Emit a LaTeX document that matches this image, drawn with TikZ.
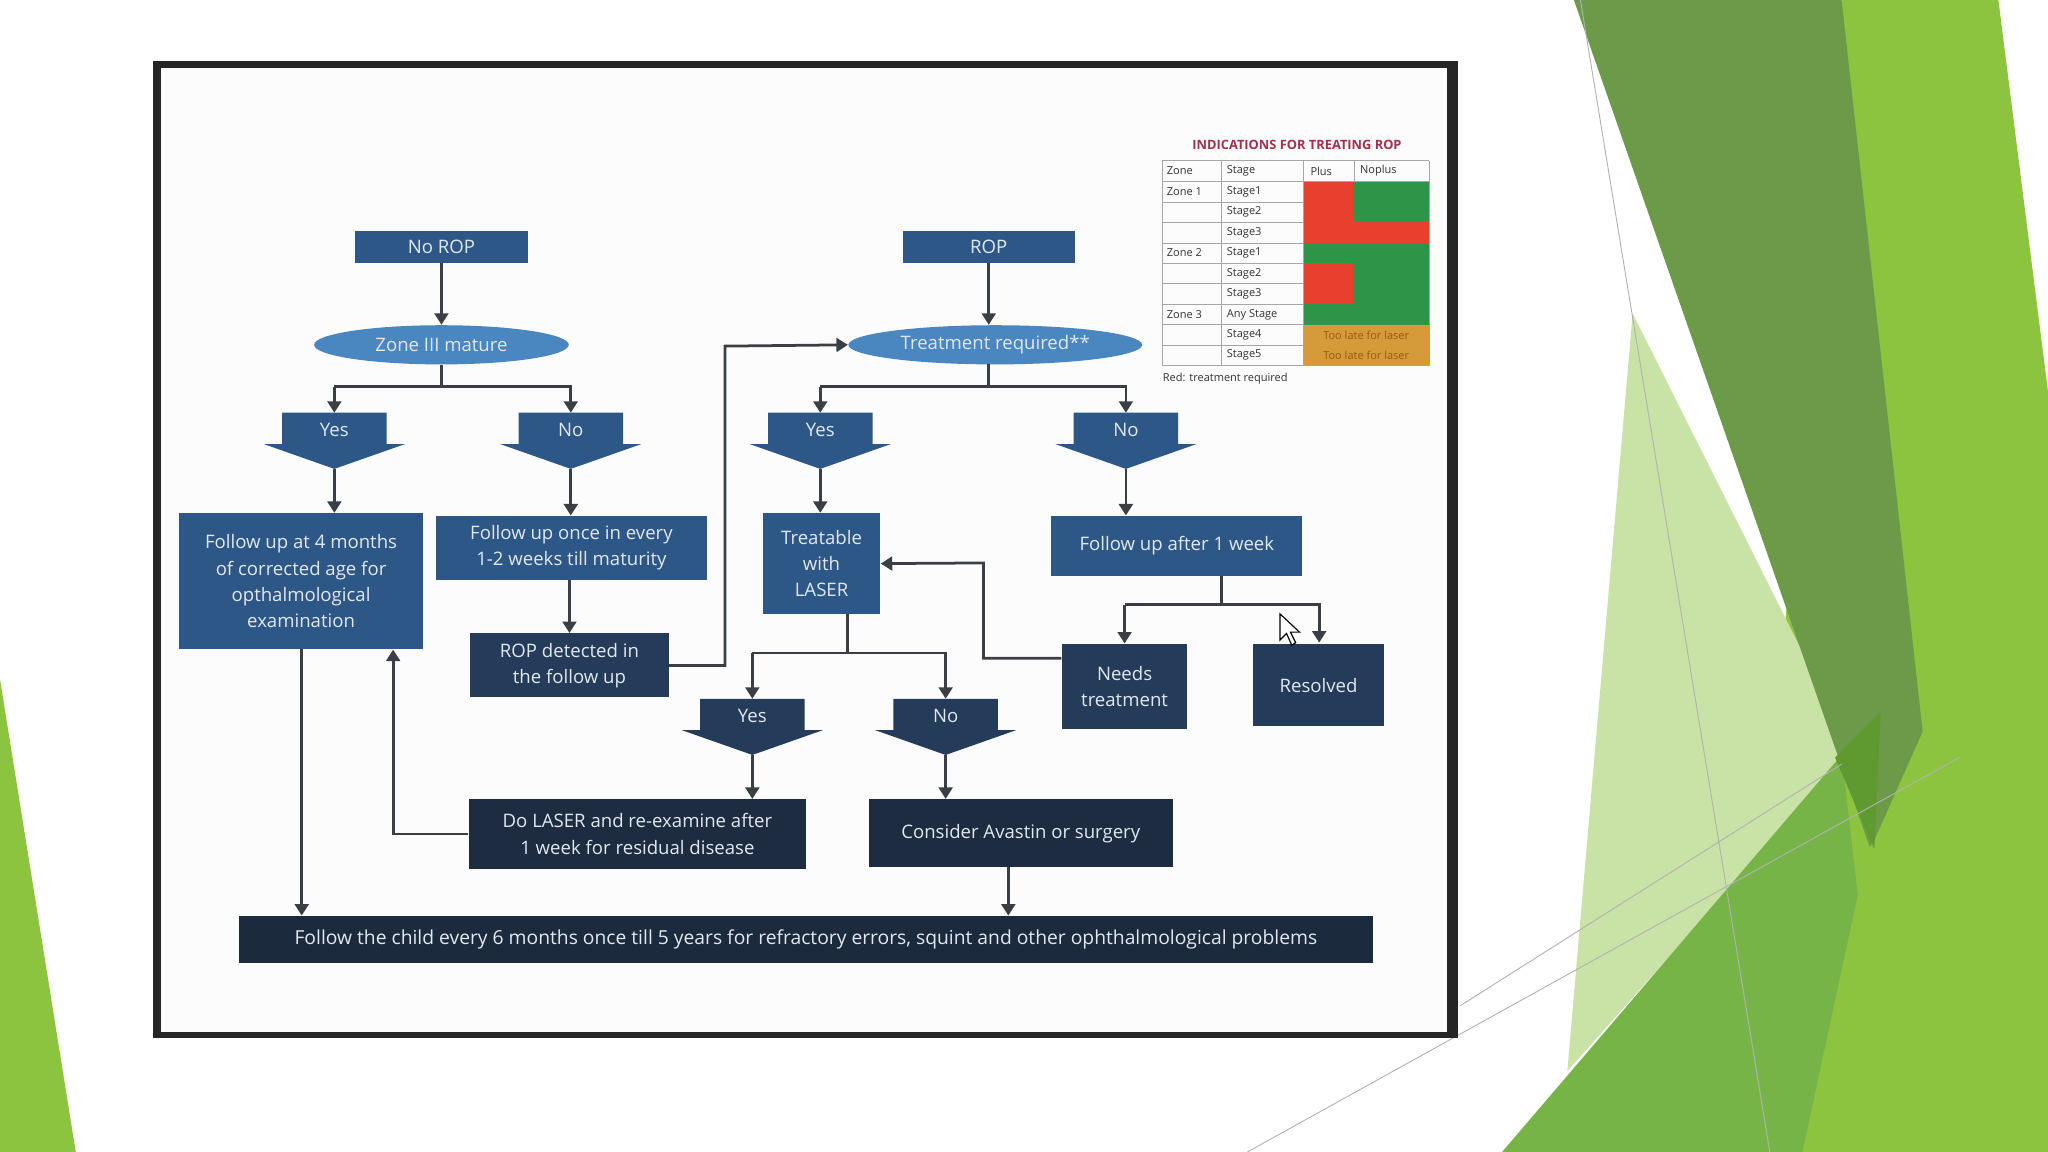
\documentclass[tikz,border=0pt]{standalone}
\usepackage{fontspec}
\setmainfont{Open Sans}
\usetikzlibrary{arrows.meta,shapes.geometric}
\definecolor{bx}{HTML}{2D5787}
\definecolor{el}{HTML}{4A86C0}
\definecolor{dk}{HTML}{243B59}
\definecolor{dd}{HTML}{1C2A3D}
\definecolor{tx}{HTML}{E2E8F0}
\definecolor{ln}{HTML}{3A3F45}
\definecolor{rd}{HTML}{E8402E}
\definecolor{gn}{HTML}{2E9447}
\definecolor{og}{HTML}{D59A3A}
\definecolor{ogt}{HTML}{9A5A10}
\definecolor{ttl}{HTML}{A3304A}
\definecolor{g1}{HTML}{6C9A48}
\definecolor{g2}{HTML}{8CC43F}
\definecolor{g3}{HTML}{C9E2A6}
\definecolor{g4}{HTML}{76B447}
\definecolor{g5}{HTML}{5E9A2F}
\tikzset{
 x=0.02cm,y=-0.02cm,
 box/.style={fill=bx,text=tx,align=center,inner sep=1pt,font=\fontsize{8.1}{11.4}\selectfont},
 dbox/.style={box,fill=dk},
 ell/.style={ellipse,fill=el,text=tx,inner sep=0pt,font=\fontsize{8.1}{11}\selectfont},
 con/.style={draw=ln,line width=1.2pt},
 arr/.style={con,-{Triangle[length=5pt,width=6pt]}},
 tb/.style={font=\fontsize{4.8}{6}\selectfont,anchor=west,inner sep=0pt,text=black!80},
}
\newcommand{\dshape}[5]{% name, x, top y, text, color
 \fill[#5] (#2-40,#3) -- (#2+40,#3) -- (#2+40,#3+24) -- (#2+54,#3+24) -- (#2,#3+43) -- (#2-54,#3+24) -- (#2-40,#3+24) -- cycle;
 \node[minimum width=1.6cm,minimum height=0.48cm,inner sep=0pt,text=tx,font=\fontsize{8.1}{11}\selectfont] (#1) at (#2,#3+13) {#4};
 \coordinate (#1-tip) at (#2,#3+43);}
\begin{document}
\begin{tikzpicture}
\useasboundingbox (0,0) rectangle (1568,882);
\fill[white] (0,0) rectangle (1568,882);
% decorations
\fill[g2] (0,520) -- (58,882) -- (0,882) -- cycle;
\fill[g2] (1410,0) -- (1530,0) -- (1568,300) -- (1568,882) -- (1330,882) -- cycle;
\fill[g3] (1250,240) -- (1418,575) -- (1200,820) -- cycle;
\fill[g1] (1205,0) -- (1410,0) -- (1472,560) -- (1432,650) -- cycle;
\fill[g4] (1150,882) -- (1410,578) -- (1445,882) -- cycle;
\fill[g2] (1430,650) -- (1568,500) -- (1568,882) -- (1380,882) -- cycle;
\fill[g5] (1405,580) -- (1440,545) -- (1435,650) -- cycle;
\draw[gray!60,line width=0.4pt] (1210,0) -- (1355,882) (955,882) -- (1500,580) (1118,770) -- (1410,585);
% screenshot frame
\fill[black!85] (117,47) rectangle (1116,795);
\fill[white!99!black] (123,52) rectangle (1108,790);
% top nodes
\node[box,minimum width=2.64cm,minimum height=0.48cm] (norop) at (338,189) {No ROP};
\node[box,minimum width=2.64cm,minimum height=0.48cm] (rop) at (757,189) {ROP};
\node[ell,minimum width=3.9cm,minimum height=0.6cm] (zone) at (338,264) {Zone III mature};
\node[ell,minimum width=4.5cm,minimum height=0.6cm] (treat) at (762,264) {Treatment required**};
\dshape{y1}{256}{316}{Yes}{bx}
\dshape{n1}{437}{316}{No}{bx}
\dshape{y2}{628}{316}{Yes}{bx}
\dshape{n2}{862}{316}{No}{bx}
\dshape{y3}{576}{535}{Yes}{dk}
\dshape{n3}{724}{535}{No}{dk}
\node[box,minimum width=3.74cm,minimum height=2.08cm] (f4) at (230.5,445) {Follow up at 4 months\\of corrected age for\\opthalmological\\examination};
\node[box,minimum width=4.14cm,minimum height=0.98cm] (fonce) at (437.5,419.5) {Follow up once in every\\1-2 weeks till maturity};
\node[dbox,minimum width=3.04cm,minimum height=0.98cm] (ropdet) at (436,509.5) {ROP detected in\\the follow up};
\node[box,minimum width=1.8cm,minimum height=1.54cm] (treatable) at (629,431.5) {Treatable\\with\\LASER};
\node[box,minimum width=3.84cm,minimum height=0.92cm] (f1w) at (901,418) {Follow up after 1 week};
\node[dbox,minimum width=1.92cm,minimum height=1.3cm] (needs) at (861,525.5) {Needs\\treatment};
\node[dbox,minimum width=2.02cm,minimum height=1.26cm] (resolved) at (1009.5,524.5) {Resolved};
\node[dbox,fill=dd!90!dk,minimum width=5.16cm,minimum height=1.06cm] (dolaser) at (488,638.5) {Do LASER and re-examine after\\1 week for residual disease};
\node[dbox,fill=dd!90!dk,minimum width=4.66cm,minimum height=1.04cm] (consider) at (781.5,638) {Consider Avastin or surgery};
\node[box,fill=dd,minimum width=17.36cm,minimum height=0.72cm,font=\fontsize{8.4}{10}\selectfont] (bar) at (617,719) {Follow the child every 6 months once till 5 years for refractory errors, squint and other ophthalmological problems};
\coordinate (lp) at (301,638.5);
% connectors
\draw[arr] (norop) -- (zone);
\draw[arr] (rop.south) -- (rop.south |- treat.north);
\draw[con] (zone.south) -- (338,296);
\draw[arr] (256,296) -- (256,316);
\draw[arr] (256,296) -- (437,296) -- (437,316);
\draw[arr] (y1-tip) -- (y1-tip |- f4.north);
\draw[arr] (n1-tip) -- (n1-tip |- fonce.north);
\draw[arr] (fonce.south -| ropdet.north) -- (ropdet.north);
\draw[arr] (ropdet.east) -- (555,509.5) -- (555,265) -- (treat.west);
\draw[con] (757,279) -- (757,296);
\draw[arr] (628,296) -- (628,316);
\draw[arr] (628,296) -- (862,296) -- (862,316);
\draw[arr] (y2-tip) -- (y2-tip |- treatable.north);
\draw[arr] (n2-tip) -- (n2-tip |- f1w.north);
\draw[con] (649,470) -- (649,500);
\draw[arr] (576,500) -- (576,535);
\draw[arr] (576,500) -- (724,500) -- (724,535);
\draw[con] (935,441) -- (935,463);
\draw[arr] (861,463) -- (needs.north);
\draw[arr] (861,463) -- (1010,463) -- (1010,492);
\draw[arr] (needs.west |- 0,504) -- (753,504) -- (753,431) -- (treatable.east);
\draw[arr] (y3-tip) -- (y3-tip |- dolaser.north);
\draw[arr] (n3-tip) -- (n3-tip |- consider.north);
\draw[arr] (dolaser.west) -- (lp) -- (lp |- f4.south);
\draw[arr] (231,497) -- (231,701);
\draw[arr] (772,664) -- (772,701);
% cursor
\filldraw[fill=white,draw=black,line width=0.5pt] (980,470) -- (980,490) -- (985,485) -- (989,494) -- (992,492) -- (988,484) -- (995,484) -- cycle;
% table
\node[font=\fontsize{5.6}{6}\selectfont\bfseries,text=ttl,inner sep=0pt] (ttl) at (993,111) {INDICATIONS FOR TREATING ROP};
\foreach \r/\p/\q in {1/rd/gn,2/rd/gn,3/rd/rd,4/gn/gn,5/rd/gn,6/rd/gn,7/gn/gn}{
 \fill[\p] (998,139+15.67*\r-15.67) rectangle (1037,139+15.67*\r);
 \fill[\q] (1037,139+15.67*\r-15.67) rectangle (1094,139+15.67*\r);}
\fill[og] (998,248.7) rectangle (1094,280);
\foreach \y in {123,139,154.7,170.3,186,201.7,217.3,233,248.7,264.3,280}{\draw[gray!70,line width=0.3pt] (890,\y) -- (998,\y);}
\draw[gray!70,line width=0.3pt] (998,123) -- (1094,123) (998,139) -- (1094,139) (998,280) -- (1094,280);
\foreach \x in {890,935,998}{\draw[gray!70,line width=0.3pt] (\x,123) -- (\x,280);}
\draw[gray!70,line width=0.3pt] (1037,123) -- (1037,139) (1094,123) -- (1094,280);
\node[tb] (h1) at (893,131) {Zone};
\node[tb] (h2) at (939,131) {Stage};
\node[tb] (h3) at (1003,131) {Plus};
\node[tb] (h4) at (1041,131) {Noplus};
\foreach \i/\z/\s in {1/Zone 1/Stage1,2//Stage2,3//Stage3,4/Zone 2/Stage1,5//Stage2,6//Stage3,7/Zone 3/Any Stage,8//Stage4,9//Stage5}{
 \node[tb] (z\i) at (893,131+15.67*\i) {\z};
 \node[tb] (s\i) at (939,131+15.67*\i) {\s};}
\node[tb,anchor=center,text=ogt] (tl1) at (1046,256.5) {Too late for laser};
\node[tb,anchor=center,text=ogt] (tl2) at (1046,272.2) {Too late for laser};
\node[tb] (red) at (890,290) {Red: treatment required};
\end{tikzpicture}
\end{document}
